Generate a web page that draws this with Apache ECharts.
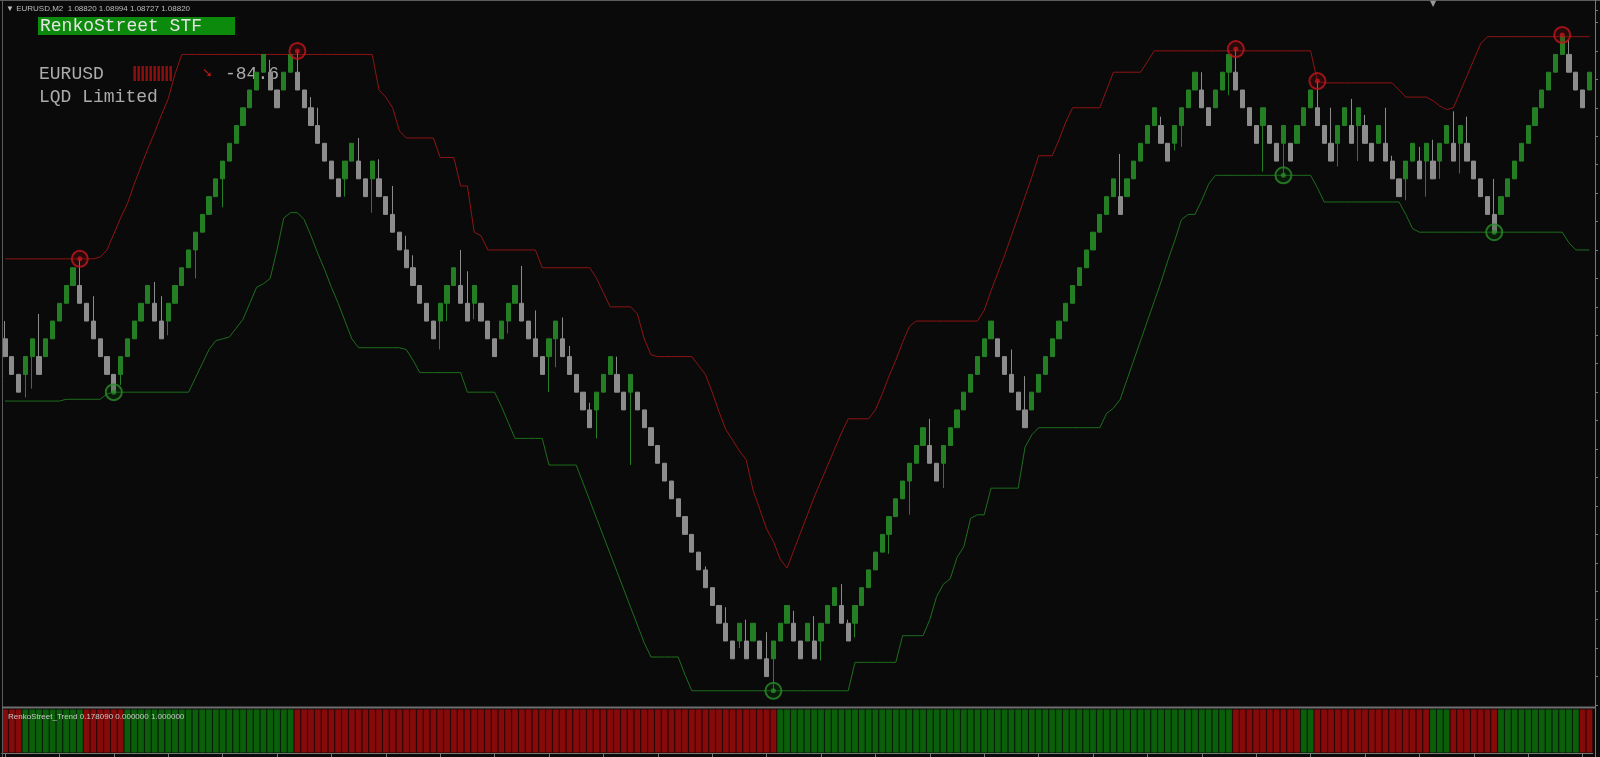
<!DOCTYPE html>
<html>
<head>
<meta charset="utf-8">
<script src="https://cdn.jsdelivr.net/npm/echarts@6/dist/echarts.min.js"></script>
<style>
html,body{margin:0;padding:0;background:#0a0a0a;}
#chart{width:1600px;height:757px;}
</style>
</head>
<body>
<div id="chart"></div>
<script>
// ---- Renko bricks (EURUSD, 1 pip bricks) ----
const opens = [
1.0867,1.0866,1.0865,1.0865,1.0866,1.0866,1.0866,1.0867,1.0868,1.0869,
1.0870,1.0870,1.0869,1.0868,1.0867,1.0866,1.0865,1.0865,1.0866,1.0867,
1.0868,1.0869,1.0869,1.0868,1.0868,1.0869,1.0870,1.0871,1.0872,1.0873,
1.0874,1.0875,1.0876,1.0877,1.0878,1.0879,1.0880,1.0881,1.0882,1.0882,
1.0881,1.0881,1.0882,1.0882,1.0881,1.0880,1.0879,1.0878,1.0877,1.0876,
1.0876,1.0877,1.0877,1.0876,1.0876,1.0876,1.0875,1.0874,1.0873,1.0872,
1.0871,1.0870,1.0869,1.0868,1.0868,1.0869,1.0870,1.0870,1.0869,1.0869,
1.0869,1.0868,1.0867,1.0867,1.0868,1.0869,1.0869,1.0868,1.0867,1.0866,
1.0866,1.0867,1.0867,1.0866,1.0865,1.0864,1.0863,1.0863,1.0864,1.0865,
1.0865,1.0864,1.0864,1.0864,1.0863,1.0862,1.0861,1.0860,1.0859,1.0858,
1.0857,1.0856,1.0855,1.0854,1.0853,1.0852,1.0851,1.0850,1.0850,1.0850,
1.0850,1.0850,1.0849,1.0849,1.0850,1.0851,1.0851,1.0850,1.0850,1.0850,
1.0850,1.0851,1.0852,1.0852,1.0851,1.0851,1.0852,1.0853,1.0854,1.0855,
1.0856,1.0857,1.0858,1.0859,1.0860,1.0861,1.0861,1.0860,1.0860,1.0861,
1.0862,1.0863,1.0864,1.0865,1.0866,1.0867,1.0867,1.0866,1.0865,1.0864,
1.0863,1.0863,1.0864,1.0865,1.0866,1.0867,1.0868,1.0869,1.0870,1.0871,
1.0872,1.0873,1.0874,1.0875,1.0875,1.0875,1.0876,1.0877,1.0878,1.0879,
1.0879,1.0878,1.0878,1.0879,1.0880,1.0881,1.0881,1.0880,1.0880,1.0881,
1.0882,1.0882,1.0881,1.0880,1.0879,1.0879,1.0879,1.0878,1.0878,1.0878,
1.0878,1.0879,1.0880,1.0880,1.0879,1.0878,1.0878,1.0879,1.0879,1.0879,
1.0879,1.0878,1.0878,1.0878,1.0877,1.0876,1.0876,1.0877,1.0877,1.0877,
1.0877,1.0877,1.0878,1.0878,1.0878,1.0878,1.0877,1.0876,1.0875,1.0874,
1.0874,1.0875,1.0876,1.0877,1.0878,1.0879,1.0880,1.0881,1.0882,1.0883,
1.0883,1.0882,1.0881,1.0881
];
const closes = [
1.0866,1.0865,1.0864,1.0866,1.0867,1.0865,1.0867,1.0868,1.0869,1.0870,
1.0871,1.0869,1.0868,1.0867,1.0866,1.0865,1.0864,1.0866,1.0867,1.0868,
1.0869,1.0870,1.0868,1.0867,1.0869,1.0870,1.0871,1.0872,1.0873,1.0874,
1.0875,1.0876,1.0877,1.0878,1.0879,1.0880,1.0881,1.0882,1.0883,1.0881,
1.0880,1.0882,1.0883,1.0881,1.0880,1.0879,1.0878,1.0877,1.0876,1.0875,
1.0877,1.0878,1.0876,1.0875,1.0877,1.0875,1.0874,1.0873,1.0872,1.0871,
1.0870,1.0869,1.0868,1.0867,1.0869,1.0870,1.0871,1.0869,1.0868,1.0870,
1.0868,1.0867,1.0866,1.0868,1.0869,1.0870,1.0868,1.0867,1.0866,1.0865,
1.0867,1.0868,1.0866,1.0865,1.0864,1.0863,1.0862,1.0864,1.0865,1.0866,
1.0864,1.0863,1.0865,1.0863,1.0862,1.0861,1.0860,1.0859,1.0858,1.0857,
1.0856,1.0855,1.0854,1.0853,1.0852,1.0851,1.0850,1.0849,1.0851,1.0849,
1.0851,1.0849,1.0848,1.0850,1.0851,1.0852,1.0850,1.0849,1.0851,1.0849,
1.0851,1.0852,1.0853,1.0851,1.0850,1.0852,1.0853,1.0854,1.0855,1.0856,
1.0857,1.0858,1.0859,1.0860,1.0861,1.0862,1.0860,1.0859,1.0861,1.0862,
1.0863,1.0864,1.0865,1.0866,1.0867,1.0868,1.0866,1.0865,1.0864,1.0863,
1.0862,1.0864,1.0865,1.0866,1.0867,1.0868,1.0869,1.0870,1.0871,1.0872,
1.0873,1.0874,1.0875,1.0876,1.0874,1.0876,1.0877,1.0878,1.0879,1.0880,
1.0878,1.0877,1.0879,1.0880,1.0881,1.0882,1.0880,1.0879,1.0881,1.0882,
1.0883,1.0881,1.0880,1.0879,1.0878,1.0880,1.0878,1.0877,1.0879,1.0877,
1.0879,1.0880,1.0881,1.0879,1.0878,1.0877,1.0879,1.0880,1.0878,1.0880,
1.0878,1.0877,1.0879,1.0877,1.0876,1.0875,1.0877,1.0878,1.0876,1.0878,
1.0876,1.0878,1.0879,1.0877,1.0879,1.0877,1.0876,1.0875,1.0874,1.0873,
1.0875,1.0876,1.0877,1.0878,1.0879,1.0880,1.0881,1.0882,1.0883,1.0884,
1.0882,1.0881,1.0880,1.0882
];
const lows = [
1.0866,1.0865,1.0864,1.08637,1.08642,1.0865,1.0866,1.0867,1.0868,1.0869,
1.0870,1.0869,1.0868,1.0867,1.0866,1.0865,1.0864,1.08644,1.0866,1.0867,
1.0868,1.0869,1.0868,1.0867,1.08672,1.0869,1.0870,1.0871,1.08704,1.0873,
1.0874,1.0875,1.08744,1.0877,1.0878,1.0879,1.0880,1.0881,1.0882,1.0881,
1.0880,1.0881,1.0882,1.0881,1.0880,1.0879,1.0878,1.0877,1.0876,1.0875,
1.0875,1.0877,1.0876,1.0875,1.08741,1.0875,1.0874,1.0873,1.0872,1.0871,
1.0870,1.0869,1.0868,1.0867,1.08664,1.0868,1.0870,1.0869,1.0868,1.08681,
1.0868,1.0867,1.0866,1.08671,1.08673,1.0869,1.0868,1.0867,1.0866,1.0865,
1.0864,1.08654,1.0866,1.0865,1.0864,1.0863,1.0862,1.08614,1.0864,1.0865,
1.0864,1.0863,1.08599,1.0863,1.0862,1.0861,1.0860,1.0859,1.0858,1.0857,
1.0856,1.0855,1.0854,1.0853,1.0852,1.0851,1.0850,1.0849,1.08496,1.0849,
1.0850,1.0849,1.0848,1.08472,1.0850,1.0851,1.0850,1.0849,1.0850,1.0849,
1.08489,1.0851,1.0852,1.0851,1.0850,1.08502,1.0852,1.0853,1.0854,1.0855,
1.08549,1.0857,1.0858,1.08571,1.0860,1.0861,1.0860,1.0859,1.08586,1.0861,
1.0862,1.0863,1.0864,1.0865,1.0866,1.0867,1.0866,1.0865,1.0864,1.0863,
1.0862,1.0863,1.0864,1.0865,1.0866,1.0867,1.0868,1.0869,1.0870,1.0871,
1.0872,1.0873,1.0874,1.0875,1.0874,1.0875,1.0876,1.0877,1.0878,1.0879,
1.0878,1.0877,1.08776,1.08778,1.0880,1.0881,1.0880,1.0879,1.0880,1.0881,
1.08807,1.0881,1.0880,1.0879,1.0878,1.08764,1.0878,1.0877,1.08762,1.0877,
1.0878,1.0879,1.0880,1.0879,1.0878,1.0877,1.08767,1.0879,1.0878,1.0877,
1.0878,1.0877,1.0878,1.0877,1.0876,1.0875,1.08748,1.0877,1.0876,1.0875,
1.0876,1.0876,1.0878,1.0877,1.08763,1.0877,1.0876,1.0875,1.0874,1.0873,
1.0874,1.0875,1.0876,1.0877,1.0878,1.0879,1.0880,1.0881,1.0882,1.0883,
1.0882,1.0881,1.0880,1.0881
];
const highs = [
1.0868,1.0866,1.0865,1.0866,1.0867,1.08684,1.0867,1.0868,1.0869,1.0870,
1.0871,1.08715,1.0869,1.08694,1.0867,1.0866,1.0865,1.0866,1.0867,1.0868,
1.0869,1.0870,1.08702,1.08694,1.0869,1.0870,1.0871,1.0872,1.0873,1.0874,
1.0875,1.0876,1.0877,1.0878,1.0879,1.0880,1.0881,1.0882,1.0883,1.08827,
1.0881,1.0882,1.0883,1.08832,1.0881,1.08806,1.0880,1.0878,1.0877,1.0876,
1.0877,1.0878,1.08783,1.0876,1.0877,1.08771,1.0875,1.08756,1.0873,1.08728,
1.08717,1.0870,1.0869,1.0868,1.0869,1.0870,1.0871,1.0872,1.08708,1.0870,
1.0869,1.0868,1.0867,1.0868,1.0869,1.0870,1.08711,1.0868,1.08686,1.0866,
1.0867,1.0868,1.08682,1.08666,1.0865,1.0864,1.08634,1.0864,1.0865,1.0866,
1.0866,1.0864,1.0865,1.0864,1.0863,1.0862,1.0861,1.0860,1.0859,1.0858,
1.0857,1.0856,1.0855,1.08542,1.0853,1.0852,1.08519,1.0850,1.0851,1.08512,
1.0851,1.0850,1.08505,1.0850,1.0851,1.0852,1.08517,1.0850,1.0851,1.08514,
1.0851,1.0852,1.0853,1.08532,1.08512,1.0852,1.0853,1.0854,1.0855,1.0856,
1.0857,1.0858,1.0859,1.0860,1.0861,1.0862,1.08625,1.0860,1.0861,1.0862,
1.0863,1.0864,1.0865,1.0866,1.0867,1.0868,1.0867,1.0866,1.08664,1.0864,
1.08649,1.0864,1.0865,1.0866,1.0867,1.0868,1.0869,1.0870,1.0871,1.0872,
1.0873,1.0874,1.0875,1.0876,1.08774,1.0876,1.0877,1.0878,1.0879,1.0880,
1.08795,1.0878,1.0879,1.0880,1.0881,1.0882,1.0882,1.0880,1.0881,1.0882,
1.0883,1.08833,1.0881,1.0880,1.0879,1.0880,1.0879,1.0878,1.0879,1.0878,
1.0879,1.0880,1.0881,1.08815,1.0879,1.0880,1.0879,1.0880,1.08805,1.0880,
1.08796,1.0878,1.0879,1.0880,1.08773,1.0876,1.0877,1.0878,1.08778,1.0878,
1.08782,1.0878,1.0879,1.08798,1.0879,1.08795,1.0877,1.0876,1.0875,1.0876,
1.0875,1.0876,1.0877,1.0878,1.0879,1.0880,1.0881,1.0882,1.0883,1.08841,
1.08838,1.0882,1.0881,1.0882
];
// ---- RenkoStreet bands ----
const upperBand = [
1.08715,1.08715,1.08715,1.08715,1.08715,1.08715,1.08715,1.08715,1.08715,1.08715,
1.08715,1.08715,1.08715,1.08715,1.08716,1.0872,1.08729,1.08738,1.08746,1.08757,
1.08767,1.08777,1.08786,1.08796,1.08805,1.08819,1.0883,1.0883,1.0883,1.0883,
1.0883,1.0883,1.0883,1.0883,1.0883,1.0883,1.0883,1.0883,1.0883,1.0883,
1.0883,1.0883,1.0883,1.0883,1.0883,1.0883,1.0883,1.0883,1.0883,1.0883,
1.0883,1.0883,1.0883,1.0883,1.0883,1.0881,1.08806,1.0880,1.08787,1.08783,
1.08783,1.08783,1.08783,1.08783,1.08772,1.08772,1.08772,1.08756,1.08756,1.0873,
1.08728,1.0872,1.0872,1.0872,1.0872,1.0872,1.0872,1.0872,1.0872,1.0871,
1.0871,1.0871,1.0871,1.0871,1.0871,1.0871,1.0871,1.08704,1.08696,1.08688,
1.08688,1.08688,1.08688,1.08684,1.0867,1.08661,1.0866,1.0866,1.0866,1.0866,
1.0866,1.0866,1.08655,1.0865,1.0864,1.08629,1.08619,1.08613,1.08607,1.08602,
1.08585,1.08574,1.08563,1.08556,1.08546,1.08541,1.08551,1.08561,1.08571,1.08581,
1.0859,1.08599,1.08608,1.08617,1.08625,1.08625,1.08625,1.08625,1.0863,1.08639,
1.08649,1.08658,1.08668,1.08677,1.0868,1.0868,1.0868,1.0868,1.0868,1.0868,
1.0868,1.0868,1.0868,1.0868,1.08686,1.08697,1.08707,1.08717,1.08728,1.08739,
1.0875,1.08761,1.08773,1.08773,1.08773,1.08782,1.08792,1.0880,1.0880,1.0880,
1.0880,1.0880,1.0881,1.0882,1.0882,1.0882,1.0882,1.0882,1.08826,1.08832,
1.08832,1.08832,1.08832,1.08832,1.08832,1.08832,1.08832,1.08832,1.08832,1.08832,
1.08832,1.08832,1.08832,1.08832,1.08832,1.08832,1.08832,1.08832,1.08832,1.08832,
1.08832,1.08832,1.08832,1.08815,1.08814,1.08814,1.08814,1.08814,1.08814,1.08814,
1.08814,1.08814,1.08814,1.08814,1.08814,1.0881,1.08806,1.08806,1.08806,1.08806,
1.08804,1.08801,1.08799,1.0880,1.08809,1.08818,1.08827,1.08836,1.0884,1.0884,
1.0884,1.0884,1.0884,1.0884,1.0884,1.0884,1.0884,1.0884,1.0884,1.0884,
1.0884,1.0884,1.0884,1.0884
];
const lowerBand = [
1.08635,1.08635,1.08635,1.08635,1.08635,1.08635,1.08635,1.08635,1.08635,1.08636,
1.08636,1.08636,1.08636,1.08636,1.08636,1.08639,1.0864,1.0864,1.0864,1.0864,
1.0864,1.0864,1.0864,1.0864,1.0864,1.0864,1.0864,1.0864,1.08648,1.08656,
1.08664,1.08669,1.0867,1.08671,1.08676,1.08681,1.0869,1.08699,1.08701,1.08704,
1.0872,1.08738,1.08741,1.08741,1.08737,1.08728,1.08718,1.08709,1.08699,1.0869,
1.0868,1.0867,1.08665,1.08665,1.08665,1.08665,1.08665,1.08665,1.08665,1.08664,
1.08658,1.08651,1.08651,1.08651,1.08651,1.08651,1.08651,1.08651,1.0864,1.0864,
1.0864,1.0864,1.0864,1.08632,1.08623,1.08614,1.08614,1.08614,1.08614,1.08614,
1.08599,1.08599,1.08599,1.08599,1.08599,1.08589,1.08579,1.08569,1.08559,1.08549,
1.08539,1.08529,1.08519,1.08509,1.08499,1.08491,1.08491,1.08491,1.08491,1.08491,
1.08481,1.08472,1.08472,1.08472,1.08472,1.08472,1.08472,1.08472,1.08472,1.08472,
1.08472,1.08472,1.08472,1.08472,1.08472,1.08472,1.08472,1.08472,1.08472,1.08472,
1.08472,1.08472,1.08472,1.08472,1.08472,1.08488,1.08488,1.08488,1.08488,1.08488,
1.08488,1.08488,1.08503,1.08503,1.08503,1.08503,1.08512,1.08525,1.08532,1.08535,
1.08547,1.08553,1.08569,1.08571,1.08571,1.08586,1.08586,1.08586,1.08586,1.08586,
1.08609,1.08616,1.0862,1.0862,1.0862,1.0862,1.0862,1.0862,1.0862,1.0862,
1.0862,1.0862,1.08628,1.08631,1.08636,1.08647,1.08658,1.08669,1.0868,1.08691,
1.08702,1.08714,1.08725,1.08737,1.0874,1.0874,1.08748,1.08757,1.08762,1.08762,
1.08762,1.08762,1.08762,1.08762,1.08762,1.08762,1.08762,1.08762,1.08762,1.08762,
1.08762,1.08762,1.08762,1.08755,1.08747,1.08747,1.08747,1.08747,1.08747,1.08747,
1.08747,1.08747,1.08747,1.08747,1.08747,1.08747,1.0874,1.08732,1.0873,1.0873,
1.0873,1.0873,1.0873,1.0873,1.0873,1.0873,1.0873,1.0873,1.0873,1.0873,
1.0873,1.0873,1.0873,1.0873,1.0873,1.0873,1.0873,1.0873,1.0873,1.0873,
1.08724,1.0872,1.0872,1.0872
];
// ---- swing markers ----
const topMarkBars = [11, 43, 181, 193, 229];
const topMarkValues = [1.08715, 1.08832, 1.08833, 1.08815, 1.08841];
const bottomMarkBars = [16, 113, 188, 219];
const bottomMarkValues = [1.0864, 1.08472, 1.08762, 1.0873];
// ---- RenkoStreet_Trend (1 = up / green, 0 = down / red) ----
const trend = [
0,0,0,1,1,1,1,1,1,1,
1,1,0,0,0,0,0,0,1,1,
1,1,1,1,1,1,1,1,1,1,
1,1,1,1,1,1,1,1,1,1,
1,1,1,0,0,0,0,0,0,0,
0,0,0,0,0,0,0,0,0,0,
0,0,0,0,0,0,0,0,0,0,
0,0,0,0,0,0,0,0,0,0,
0,0,0,0,0,0,0,0,0,0,
0,0,0,0,0,0,0,0,0,0,
0,0,0,0,0,0,0,0,0,0,
0,0,0,0,1,1,1,1,1,1,
1,1,1,1,1,1,1,1,1,1,
1,1,1,1,1,1,1,1,1,1,
1,1,1,1,1,1,1,1,1,1,
1,1,1,1,1,1,1,1,1,1,
1,1,1,1,1,1,1,1,1,1,
1,1,1,1,1,1,1,1,1,1,
1,0,0,0,0,0,0,0,0,0,
0,1,1,0,0,0,0,0,0,0,
0,0,0,0,0,0,0,0,0,0,
1,1,1,0,0,0,0,0,0,0,
1,1,1,1,1,1,1,1,1,1,
1,1,0,0
];
const categories = opens.map((_, i) => String(i));

const candles = opens.map((o, i) => [o, closes[i], lows[i], highs[i]]);
const topMarks = topMarkBars.map((b, k) => [b, topMarkValues[k]]);
const bottomMarks = bottomMarkBars.map((b, k) => [b, bottomMarkValues[k]]);

const MONO = '"Liberation Mono", "DejaVu Sans Mono", monospace';
const gauge = [];
for (let k = 0; k < 10; k++) {
  gauge.push({type: 'rect', z: 1, shape: {x: 133.5 + k * 4, y: 66, width: 2.4, height: 15}, style: {fill: '#8c1010'}});
}

const chart = echarts.init(document.getElementById('chart'));
chart.setOption({
  backgroundColor: '#0a0a0a',
  animation: false,
  grid: [
    {left: 1.6, top: 10, width: 1591.2, height: 695},
    {left: 1.6, top: 709, width: 1591.2, height: 44}
  ],
  xAxis: [
    {type: 'category', gridIndex: 0, data: categories, boundaryGap: true, show: false},
    {type: 'category', gridIndex: 1, data: categories, boundaryGap: true,
     axisLine: {show: true, lineStyle: {color: '#7a7a7a', width: 1}},
     axisTick: {show: true, interval: 7, alignWithLabel: true, length: 4, lineStyle: {color: '#7a7a7a'}},
     axisLabel: {show: false}, splitLine: {show: false}}
  ],
  yAxis: [
    {type: 'value', gridIndex: 0, min: 1.08464, max: 1.08855, interval: 0.00016, position: 'right', offset: 2.2,
     axisLine: {show: true, lineStyle: {color: '#7a7a7a'}},
     axisTick: {show: true, length: 3, lineStyle: {color: '#7a7a7a'}},
     axisLabel: {show: false}, splitLine: {show: false}},
    {type: 'value', gridIndex: 1, min: 0, max: 1, show: false}
  ],
  series: [
    {name: 'Upper', type: 'line', xAxisIndex: 0, yAxisIndex: 0, data: upperBand, symbol: 'none', z: 1,
     lineStyle: {color: '#8e1414', width: 1}},
    {name: 'Lower', type: 'line', xAxisIndex: 0, yAxisIndex: 0, data: lowerBand, symbol: 'none', z: 1,
     lineStyle: {color: '#1d6e1d', width: 1}},
    {name: 'Renko', type: 'candlestick', xAxisIndex: 0, yAxisIndex: 0, data: candles, barWidth: 4.6, z: 2,
     itemStyle: {color: '#247f24', color0: '#8c8c8c', borderColor: '#247f24', borderColor0: '#8c8c8c', borderWidth: 1}},
    {type: 'scatter', xAxisIndex: 0, yAxisIndex: 0, data: topMarks, symbol: 'circle', symbolSize: 16, z: 3,
     itemStyle: {color: 'rgba(110,10,10,0.35)', borderColor: '#c0161e', borderWidth: 2}},
    {type: 'scatter', xAxisIndex: 0, yAxisIndex: 0, data: topMarks, symbol: 'circle', symbolSize: 5, z: 4,
     itemStyle: {color: '#c0161e'}},
    {type: 'scatter', xAxisIndex: 0, yAxisIndex: 0, data: bottomMarks, symbol: 'circle', symbolSize: 16, z: 3,
     itemStyle: {color: 'rgba(10,80,10,0.3)', borderColor: '#2a8c2a', borderWidth: 2}},
    {type: 'scatter', xAxisIndex: 0, yAxisIndex: 0, data: bottomMarks, symbol: 'circle', symbolSize: 5, z: 4,
     itemStyle: {color: '#2a8c2a'}},
    {name: 'TrendUp', type: 'bar', xAxisIndex: 1, yAxisIndex: 1, barWidth: '100%', barGap: '-100%',
     data: trend.map(t => t === 1 ? 1 : '-'),
     itemStyle: {color: '#0b5f0b', borderColor: 'rgba(0,0,0,0.35)', borderWidth: 0.6}},
    {name: 'TrendDown', type: 'bar', xAxisIndex: 1, yAxisIndex: 1, barWidth: '100%', barGap: '-100%',
     data: trend.map(t => t === 0 ? 1 : '-'),
     itemStyle: {color: '#870a0a', borderColor: 'rgba(0,0,0,0.35)', borderWidth: 0.6}}
  ],
  graphic: [
    {type: 'line', z: 20, shape: {x1: 2.5, y1: 0, x2: 2.5, y2: 757}, style: {stroke: '#5c5c5c', lineWidth: 1}},
    {type: 'line', z: 20, shape: {x1: 0, y1: 0.5, x2: 1600, y2: 0.5}, style: {stroke: '#5c5c5c', lineWidth: 1}},
    {type: 'line', z: 20, shape: {x1: 1595.5, y1: 0, x2: 1595.5, y2: 757}, style: {stroke: '#7a7a7a', lineWidth: 1}},
    {type: 'line', z: 20, shape: {x1: 2, y1: 707.5, x2: 1596, y2: 707.5}, style: {stroke: '#6e6e6e', lineWidth: 2}},
    {type: 'text', z: 20, x: 6, y: 9, style: {text: '▼ EURUSD,M2  1.08820 1.08994 1.08727 1.08820', font: '8px "Liberation Sans", sans-serif', fill: '#bdbdbd', verticalAlign: 'middle'}},
    {type: 'text', z: 20, x: 1430, y: 4, style: {text: '▼', font: '8px "DejaVu Sans", sans-serif', fill: '#9a9a9a', verticalAlign: 'middle'}},
    {type: 'rect', z: 5, shape: {x: 38, y: 17, width: 197, height: 18}, style: {fill: '#0b8a0b'}},
    {type: 'text', z: 6, x: 40, y: 26.5, style: {text: 'RenkoStreet STF', font: '18px ' + MONO, fill: '#e4e4e4', verticalAlign: 'middle'}},
    {type: 'text', z: 1, x: 39, y: 74, style: {text: 'EURUSD', font: '18px ' + MONO, fill: '#ababab', verticalAlign: 'middle'}},
    ...gauge,
    {type: 'text', z: 1, x: 202, y: 74, style: {text: '➘', font: '13px "DejaVu Sans", sans-serif', fill: '#b01818', verticalAlign: 'middle'}},
    {type: 'text', z: 1, x: 225, y: 74, style: {text: '-84.6', font: '18px ' + MONO, fill: '#ababab', verticalAlign: 'middle'}},
    {type: 'text', z: 1, x: 39, y: 97, style: {text: 'LQD Limited', font: '18px ' + MONO, fill: '#ababab', verticalAlign: 'middle'}},
    {type: 'text', z: 20, x: 8, y: 717, style: {text: 'RenkoStreet_Trend 0.178090 0.000000 1.000000', font: '8px "Liberation Sans", sans-serif', fill: '#c8c8c8', verticalAlign: 'middle'}}
  ]
});
</script>
</body>
</html>
